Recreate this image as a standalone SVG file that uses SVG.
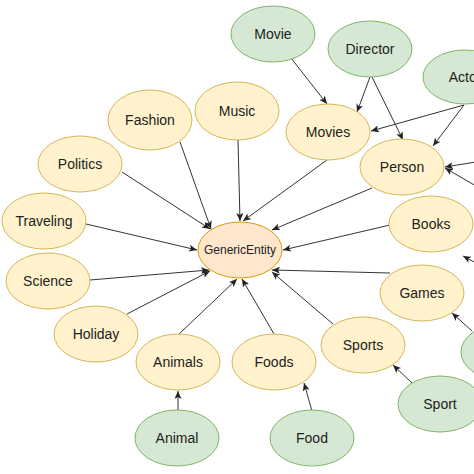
<svg xmlns="http://www.w3.org/2000/svg" width="474" height="474" viewBox="0 0 474 474">
<style>
.y{fill:#fff2cc;stroke:#d6b656;stroke-width:1}
.g{fill:#d5e8d4;stroke:#82b366;stroke-width:1}
.o{fill:#ffe6cc;stroke:#d79b00;stroke-width:1}
text{font-family:"Liberation Sans",Arial,sans-serif;font-size:14px;fill:#222;text-anchor:middle;dominant-baseline:central}
.e{stroke:#333;stroke-width:1;fill:none;marker-end:url(#a)}
</style>
<defs>
<marker id="a" markerWidth="8" markerHeight="7" refX="8" refY="3.5" orient="auto" markerUnits="userSpaceOnUse">
<path d="M0,0 L8,3.5 L0,7 L2,3.5 z" fill="#222"/>
</marker>
</defs>
<rect width="474" height="474" fill="#fff"/>
<g id="connectors">
<line class="e" x1="291" y1="58" x2="327" y2="104"/>
<line class="e" x1="370" y1="77" x2="357" y2="112"/>
<line class="e" x1="372" y1="77" x2="403" y2="140"/>
<line class="e" x1="464" y1="105" x2="371" y2="131"/>
<line class="e" x1="464" y1="105" x2="433" y2="146"/>
<line class="e" x1="476" y1="162" x2="445" y2="167"/>
<line class="e" x1="476" y1="186" x2="445" y2="168"/>
<line class="e" x1="476" y1="263" x2="463" y2="256"/>
<line class="e" x1="472" y1="331" x2="452" y2="313"/>
<line class="e" x1="412" y1="383" x2="393" y2="365"/>
<line class="e" x1="312" y1="411" x2="304" y2="383"/>
<line class="e" x1="178" y1="411" x2="178" y2="391"/>
<line class="e" x1="238" y1="140" x2="240" y2="221"/>
<line class="e" x1="327" y1="160" x2="243" y2="221"/>
<line class="e" x1="180" y1="142" x2="211" y2="229"/>
<line class="e" x1="122" y1="172" x2="210" y2="229"/>
<line class="e" x1="86" y1="224" x2="197" y2="250"/>
<line class="e" x1="90" y1="280" x2="209" y2="270"/>
<line class="e" x1="127" y1="314" x2="210" y2="271"/>
<line class="e" x1="178" y1="335" x2="237" y2="279"/>
<line class="e" x1="274" y1="334" x2="242" y2="279"/>
<line class="e" x1="333" y1="324" x2="272" y2="272"/>
<line class="e" x1="390" y1="273" x2="272" y2="270"/>
<line class="e" x1="390" y1="225" x2="283" y2="250"/>
<line class="e" x1="372" y1="188" x2="272" y2="230"/>
</g>
<g id="GenericEntity"><ellipse class="o" cx="240" cy="250" rx="42" ry="28"/><text x="240" y="250" style="font-size:12px">GenericEntity</text></g>
<g id="Movie"><ellipse class="g" cx="273" cy="34" rx="42" ry="28"/><text x="273" y="34">Movie</text></g>
<g id="Director"><ellipse class="g" cx="370" cy="49" rx="42" ry="28"/><text x="370" y="49">Director</text></g>
<g id="Actor"><ellipse class="g" cx="465" cy="77" rx="42" ry="27"/><text x="465" y="77">Actor</text></g>
<g id="Movies"><ellipse class="y" cx="328" cy="132" rx="42" ry="28"/><text x="328" y="132">Movies</text></g>
<g id="Person"><ellipse class="y" cx="402" cy="167" rx="42" ry="28"/><text x="402" y="167">Person</text></g>
<g id="Books"><ellipse class="y" cx="431" cy="224" rx="42" ry="28"/><text x="431" y="224">Books</text></g>
<g id="Games"><ellipse class="y" cx="422" cy="293" rx="42" ry="28"/><text x="422" y="293">Games</text></g>
<g id="Game"><ellipse class="g" cx="503" cy="352" rx="42" ry="28"/></g>
<g id="Sports"><ellipse class="y" cx="363" cy="345" rx="42" ry="28"/><text x="363" y="345">Sports</text></g>
<g id="Sport"><ellipse class="g" cx="440" cy="404" rx="42" ry="28"/><text x="440" y="404">Sport</text></g>
<g id="Foods"><ellipse class="y" cx="274" cy="362" rx="42" ry="28"/><text x="274" y="362">Foods</text></g>
<g id="Food"><ellipse class="g" cx="312" cy="438" rx="42" ry="28"/><text x="312" y="438">Food</text></g>
<g id="Animals"><ellipse class="y" cx="178" cy="362" rx="42" ry="28"/><text x="178" y="362">Animals</text></g>
<g id="Animal"><ellipse class="g" cx="177" cy="438" rx="42" ry="28"/><text x="177" y="438">Animal</text></g>
<g id="Holiday"><ellipse class="y" cx="96" cy="334" rx="42" ry="28"/><text x="96" y="334">Holiday</text></g>
<g id="Science"><ellipse class="y" cx="48" cy="281" rx="42" ry="28"/><text x="48" y="281">Science</text></g>
<g id="Traveling"><ellipse class="y" cx="44" cy="221" rx="42" ry="28"/><text x="44" y="221">Traveling</text></g>
<g id="Politics"><ellipse class="y" cx="80" cy="164" rx="42" ry="28"/><text x="80" y="164">Politics</text></g>
<g id="Fashion"><ellipse class="y" cx="150" cy="120" rx="42" ry="30"/><text x="150" y="120">Fashion</text></g>
<g id="Music"><ellipse class="y" cx="237" cy="111" rx="42" ry="29"/><text x="237" y="111">Music</text></g>
</svg>
